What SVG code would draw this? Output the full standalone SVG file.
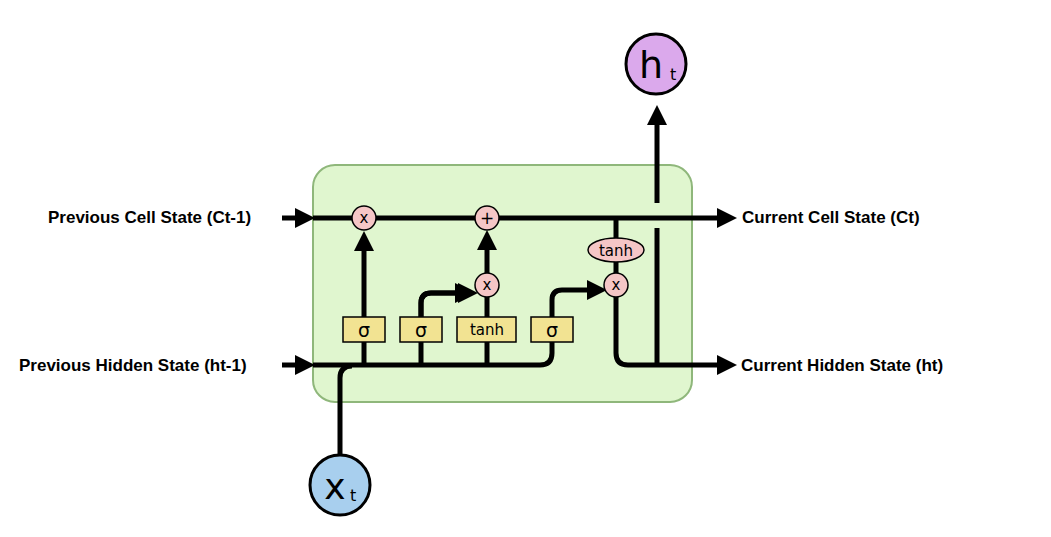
<svg xmlns="http://www.w3.org/2000/svg" width="1051" height="537" viewBox="0 0 1051 537">
<defs>
<marker id="ah" markerWidth="4" markerHeight="4" refX="1" refY="2" orient="auto" markerUnits="strokeWidth"><path d="M0,0 L4,2 L0,4 z" fill="#000"/></marker>
<style>
.ln{fill:none;stroke:#000;stroke-width:5}
.op{fill:#f5c6c6;stroke:#000;stroke-width:1.5}
.gt{fill:#f2e392;stroke:#000;stroke-width:1.5}
.t{font-family:"DejaVu Sans",sans-serif;fill:#000;text-anchor:middle}
.lb{font-family:"Liberation Sans",Arial,sans-serif;font-weight:bold;font-size:17px;fill:#000}
</style>
</defs>
<rect width="1051" height="537" fill="#fff"/>
<g id="cell"><rect x="313" y="165" width="379" height="237" rx="22" fill="#e0f6cf" stroke="#8fb77b" stroke-width="2"/></g>
<g id="connectors">
<path class="ln" d="M282,218 H300" marker-end="url(#ah)"/>
<path class="ln" d="M282,365 H300" marker-end="url(#ah)"/>
<path class="ln" d="M313,218 H722" marker-end="url(#ah)"/>
<path class="ln" d="M313,365 H540 Q552,365 552,353 V342"/>
<path class="ln" d="M340,455 V378 Q340,366 352,366"/>
<path class="ln" d="M364,317 V246" marker-end="url(#ah)"/>
<path class="ln" d="M421,365 V342 M421,317 V303 Q421,293 431,293 H460" marker-end="url(#ah)"/>
<path class="ln" d="M421,317 V303 Q421,293 431,293 H463" marker-end="url(#ah)"/>
<path class="ln" d="M364,365 V342 M487,365 V342 M487,317 V297"/>
<path class="ln" d="M487,273 V245" marker-end="url(#ah)"/>
<path class="ln" d="M552,317 V300 Q552,290 562,290 H592" marker-end="url(#ah)"/>
<path class="ln" d="M616,218 V273"/>
<path class="ln" d="M616,297 V353 Q616,365 628,365 H722" marker-end="url(#ah)"/>
<path class="ln" d="M657,365 V228 M657,203 V120" marker-end="url(#ah)"/>
</g>
<g id="mul1"><circle class="op" cx="364" cy="218" r="12"/><text class="t" x="364" y="223" font-size="15">x</text></g>
<g id="add"><circle class="op" cx="487" cy="218" r="12"/><text class="t" x="487" y="224" font-size="17">+</text></g>
<g id="mul2"><circle class="op" cx="487" cy="285" r="12"/><text class="t" x="487" y="290" font-size="15">x</text></g>
<g id="tanh2"><ellipse class="op" cx="616" cy="250" rx="28" ry="12"/><text class="t" x="616" y="256" font-size="15">tanh</text></g>
<g id="mul3"><circle class="op" cx="616" cy="285" r="12"/><text class="t" x="616" y="290" font-size="15">x</text></g>
<g id="g1"><rect class="gt" x="343" y="317" width="42" height="25"/><text class="t" x="364" y="337" font-size="19">σ</text></g>
<g id="g2"><rect class="gt" x="400" y="317" width="42" height="25"/><text class="t" x="421" y="337" font-size="19">σ</text></g>
<g id="g3"><rect class="gt" x="457" y="317" width="59" height="25"/><text class="t" x="487" y="335" font-size="15">tanh</text></g>
<g id="g4"><rect class="gt" x="531" y="317" width="42" height="25"/><text class="t" x="552" y="337" font-size="19">σ</text></g>
<g id="ht"><circle cx="656" cy="64" r="30" fill="#dba9ec" stroke="#000" stroke-width="3"/><text x="651" y="78" font-family="DejaVu Sans,sans-serif" font-size="38" text-anchor="middle">h</text><text x="670" y="80" font-family="DejaVu Sans,sans-serif" font-size="16">t</text></g>
<g id="xt"><circle cx="340" cy="485" r="30" fill="#a8cfee" stroke="#000" stroke-width="3"/><text x="335" y="499" font-family="DejaVu Sans,sans-serif" font-size="36" text-anchor="middle">x</text><text x="350" y="501" font-family="DejaVu Sans,sans-serif" font-size="16">t</text></g>
<g id="labels">
<text class="lb" x="48" y="223">Previous Cell State (Ct-1)</text>
<text class="lb" x="19" y="371">Previous Hidden State (ht-1)</text>
<text class="lb" x="742" y="223">Current Cell State (Ct)</text>
<text class="lb" x="741" y="371">Current Hidden State (ht)</text>
</g>
</svg>
